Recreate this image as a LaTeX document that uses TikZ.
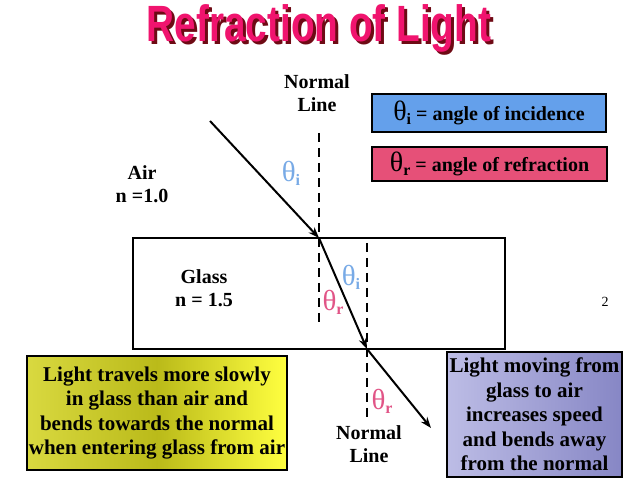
\documentclass[tikz,border=0pt]{standalone}
\usepackage{fontspec}
\setmainfont{Liberation Serif}
\newfontfamily\titlefont{Liberation Sans}
\usetikzlibrary{arrows.meta}
\definecolor{ti}{RGB}{120,170,230}
\definecolor{tr}{RGB}{225,85,135}
\definecolor{ttl}{RGB}{240,20,110}
\definecolor{ttd}{RGB}{110,10,20}
\definecolor{blueb}{RGB}{100,160,235}
\definecolor{pinkb}{RGB}{230,80,120}
\begin{document}
\begin{tikzpicture}[x=1pt,y=-1pt,
  lbl/.style={font=\bfseries\fontsize{20}{23}\selectfont, align=center},
  blbl/.style={font=\bfseries\fontsize{21}{24.5}\selectfont, align=center},
  ray/.style={line width=2pt, -{Stealth[length=11pt,width=8pt]}},
  nrm/.style={line width=2.2pt, dash pattern=on 9pt off 6pt},
  th/.style={font=\fontsize{29}{30}\selectfont}]
\useasboundingbox (0,0) rectangle (638,478);
% title
\node[font=\titlefont\bfseries\fontsize{51}{52}\selectfont, text=ttd, xscale=0.76] (tsh) at (322,31) {Refraction of Light};
\node[font=\titlefont\bfseries\fontsize{51}{52}\selectfont, text=ttl, xscale=0.76] (title) at (319,28) {Refraction of Light};
% glass
\draw[line width=2pt] (133,238) rectangle (505,349);
\node[lbl] (glass) at (204,288) {Glass\\n = 1.5};
\node[lbl] (air) at (142,184) {Air\\n =1.0};
% normals
\coordinate (n1t) at (319,133); \coordinate (n1b) at (319,322);
\coordinate (n2t) at (367,243); \coordinate (n2b) at (367,422);
\draw[nrm] (n1t) -- (n1b);
\draw[nrm] (n2t) -- (n2b);
\node[lbl] (nl1) at (317,93) {Normal\\Line};
\node[lbl] (nl2) at (369,444) {Normal\\Line};
% rays
\coordinate (s) at (210,121); \coordinate (p1) at (319,238); \coordinate (p2) at (367,349); \coordinate (e) at (431,428);
\draw[ray] (s) -- (p1);
\draw[ray] (p1) -- (p2);
\draw[ray] (p2) -- (e);
% angles
\node[th, text=ti] (a1) at (291,173) {θ\raisebox{-4pt}{\bfseries\fontsize{16}{16}\selectfont i}};
\node[th, text=ti] (a2) at (351,277) {θ\raisebox{-4pt}{\bfseries\fontsize{16}{16}\selectfont i}};
\node[th, text=tr] (a3) at (333,302) {θ\raisebox{-4pt}{\bfseries\fontsize{16}{16}\selectfont r}};
\node[th, text=tr] (a4) at (382,401) {θ\raisebox{-4pt}{\bfseries\fontsize{16}{16}\selectfont r}};
% legend boxes
\node[draw, line width=1.5pt, fill=blueb, minimum width=234pt, minimum height=38pt, lbl] (lb1) at (489,113) {\fontsize{28}{28}\selectfont\mdseries θ\raisebox{-4pt}{\bfseries\fontsize{16}{16}\selectfont i}\bfseries\fontsize{20}{23}\selectfont{} = angle of incidence};
\node[draw, line width=1.5pt, fill=pinkb, minimum width=235pt, minimum height=34pt, lbl] (lb2) at (489.5,164) {\fontsize{28}{28}\selectfont\mdseries θ\raisebox{-4pt}{\bfseries\fontsize{16}{16}\selectfont r}\bfseries\fontsize{20}{23}\selectfont{} = angle of refraction};
\node[font=\fontsize{14}{15}\selectfont] (pg) at (605,302) {2};
% text boxes
\node[draw, line width=1.5pt, inner sep=0pt, minimum width=260pt, minimum height=114pt, left color=yellow!80!black!75, right color=yellow!75!white, middle color=yellow!70!black!90, blbl] (yb) at (157,413) {Light travels more slowly\\in glass than air and\\bends towards the normal\\when entering glass from air};
\node[draw, line width=1.5pt, inner sep=0pt, minimum width=175pt, minimum height=125pt, left color=blue!20!white!80!gray, right color=blue!35!gray!70!white, blbl] (pb) at (534.5,414.5) {Light moving from\\glass to air\\increases speed\\and bends away\\from the normal};
\end{tikzpicture}
\end{document}
